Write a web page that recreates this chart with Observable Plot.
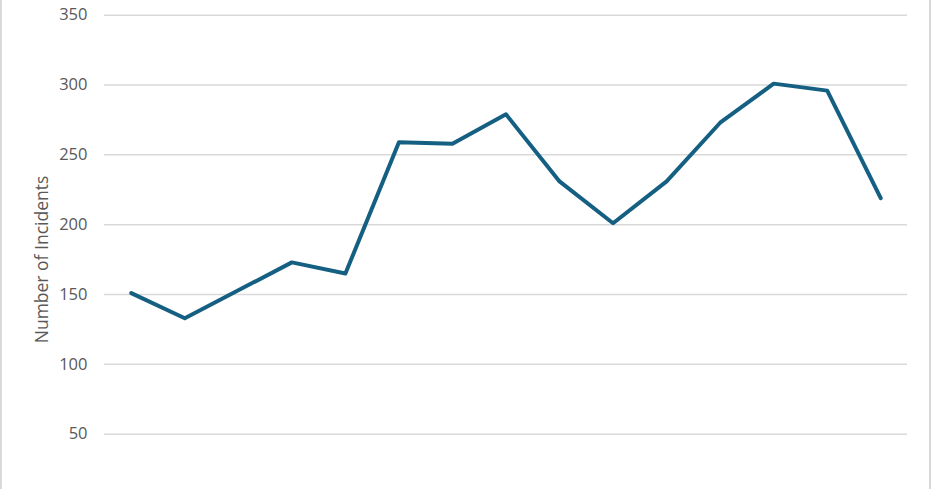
<!DOCTYPE html>
<html>
<head>
<meta charset="utf-8">
<script src="https://cdn.jsdelivr.net/npm/d3@7"></script>
<script src="https://cdn.jsdelivr.net/npm/@observablehq/plot@0.6"></script>
<style>
  html, body { margin: 0; padding: 0; background: #fff; overflow: hidden; }
  #chart { width: 931px; height: 489px; box-sizing: border-box; border-left: 2px solid #d9d9d9; border-right: 2px solid #d9d9d9; overflow: hidden; }
  #chart svg { display: block; }
</style>
</head>
<body>
<div id="chart"></div>
<script>
// Data (x-axis labels are cropped out of the picture)
const periods = ["P1","P2","P3","P4","P5","P6","P7","P8","P9","P10","P11","P12","P13","P14","P15"];
const incidents = [151, 133, 153, 173, 165, 259, 258, 279, 231, 201, 231, 273, 301, 296, 219];
const yTicks = [50, 100, 150, 200, 250, 300, 350];
const yLabel = "Number of Incidents";

const data = periods.map((p, i) => ({period: p, value: incidents[i]}));

const font = "'Open Sans', 'Liberation Sans', Arial, sans-serif";
const chart = Plot.plot({
  width: 927,
  height: 489,
  marginLeft: 102,
  marginRight: 22,
  marginTop: 15,
  marginBottom: 0,
  style: {fontFamily: font, background: "#fff", overflow: "hidden"},
  x: {type: "point", domain: periods, padding: 0.5, round: false, axis: null},
  y: {domain: [0, 350], range: [503.5, 14.7], axis: null},
  marks: [
    Plot.gridY(yTicks, {stroke: "#d9d9d9", strokeOpacity: 1, strokeWidth: 1.5}),
    Plot.axisY(yTicks, {tickSize: 0, tickPadding: 17, fontSize: 16.5, fill: "#595959", label: null, tickFormat: d => String(d)}),
    Plot.text([yLabel], {frameAnchor: "left", dx: -62, dy: 7, rotate: -90, fontSize: 17.5, fill: "#595959", textAnchor: "middle", lineAnchor: "middle"}),
    Plot.lineY(data, {x: "period", y: "value", stroke: "#156082", strokeWidth: 4, strokeLinejoin: "round", strokeLinecap: "round"})
  ]
});
document.getElementById("chart").appendChild(chart);
</script>
</body>
</html>
